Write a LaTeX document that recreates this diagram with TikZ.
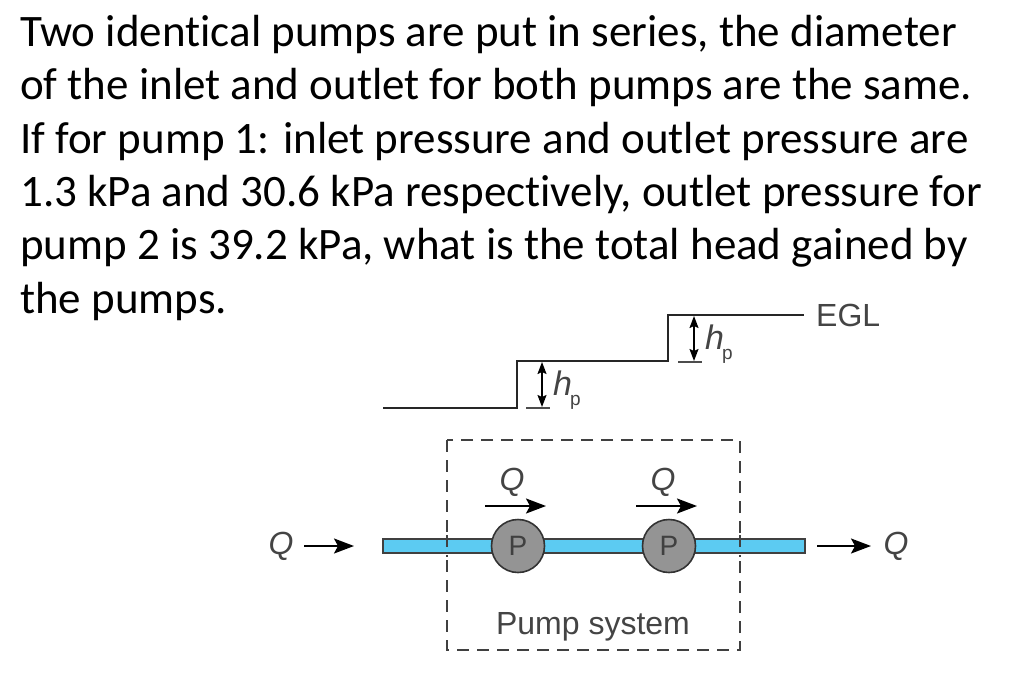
\documentclass[tikz,border=0pt]{standalone}
\usepackage{fontspec}
\setmainfont[Ligatures=NoCommon]{Carlito}
\newfontfamily\arl{Liberation Sans}
\usetikzlibrary{arrows.meta}
\definecolor{pipec}{HTML}{5CCBF2}
\definecolor{lab}{HTML}{444444}
\begin{document}
\begin{tikzpicture}[x=1pt,y=-1pt,
  ttl/.style={anchor=base west,inner sep=0,font=\fontsize{45}{45}\selectfont},
  lbl/.style={inner sep=0,text=lab,font=\arl\fontsize{32}{32}\selectfont},
  qs/.style={lbl,font=\arl\itshape\fontsize{32}{32}\selectfont},
  egl/.style={line width=2.4pt,black!85},
  dim/.style={line width=1.5pt,{Stealth[length=12pt,width=9pt,inset=2pt]}-{Stealth[length=12pt,width=9pt,inset=2pt]}},
  flow/.style={line width=2pt,-{Stealth[length=20pt,width=15pt,inset=4pt]}},
  pump/.style={circle,draw=black!80,line width=1.6pt,fill=black!42,minimum size=53pt,inner sep=0,text=black!75,font=\arl\fontsize{28}{28}\selectfont}]
\useasboundingbox (0,0) rectangle (1024,677);
\node[ttl] (l1) at (20,46) {Two identical pumps are put in series, the diameter};
\node[ttl] (l2) at (20,99) {of the inlet and outlet for both pumps are the same.};
\node[ttl] (l3) at (20,153) {If for pump 1: inlet pressure and outlet pressure are};
\node[ttl] (l4) at (20,206) {1.3 kPa and 30.6 kPa respectively, outlet pressure for};
\node[ttl] (l5) at (20,259) {pump 2 is 39.2 kPa, what is the total head gained by};
\node[ttl] (l6) at (20,313) {the pumps.};
% EGL
\draw[egl] (383,408) -- (517,408) -- (517,361) -- (668,361) -- (668,315) -- (804,315);
\node[lbl,anchor=west] (egl) at (816,315) {EGL};
\draw[line width=1.2pt,black!70] (526,408) -- (550,408);
\draw[dim] (542,362) -- (542,407);
\node[qs,anchor=west,font=\arl\itshape\fontsize{34}{34}\selectfont] (h1) at (553,383) {h};
\node[lbl,anchor=west,font=\arl\fontsize{19}{19}\selectfont] (h1s) at (570,402) {p};
\draw[line width=1.2pt,black!70] (678,362) -- (702,362);
\draw[dim] (694,316) -- (694,361);
\node[qs,anchor=west,font=\arl\itshape\fontsize{34}{34}\selectfont] (h2) at (705,337) {h};
\node[lbl,anchor=west,font=\arl\fontsize{19}{19}\selectfont] (h2s) at (722,356) {p};
% box
\draw[dashed,dash pattern=on 12pt off 8pt,line width=1.4pt,black!75] (447,440) rectangle (740,650);
% pipe
\draw[fill=pipec,draw=black!75,line width=1.4pt] (383,539) rectangle (805,553);
\draw[dashed,dash pattern=on 12pt off 8pt,line width=1.4pt,black!75] (447,535) -- (447,557) (740,535) -- (740,557);
\node[pump] (p1) at (518,546) {P};
\node[pump] (p2) at (669,546) {P};
\node[qs] (q1) at (512,482) {Q};
\draw[flow] (485,506) -- (546,506);
\node[qs] (q2) at (663,482) {Q};
\draw[flow] (636,506) -- (697,506);
\node[qs] (qin) at (281,546) {Q};
\draw[flow] (304,546) -- (354,546);
\node[qs] (qout) at (896,546) {Q};
\draw[flow] (817,546) -- (871,546);
\node[lbl] (ps) at (593,627) {Pump system};
\end{tikzpicture}
\end{document}
